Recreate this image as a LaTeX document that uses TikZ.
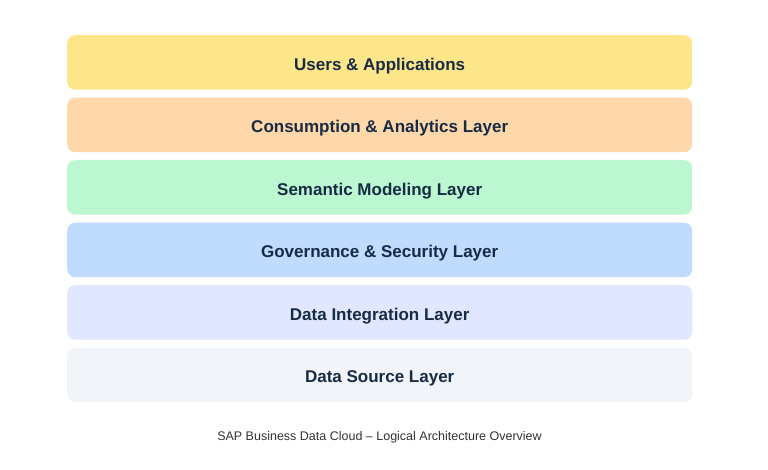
\documentclass[tikz,border=0pt]{standalone}
\usepackage{fontspec}
\setmainfont{Liberation Sans}
\definecolor{cA}{HTML}{FDE68A}
\definecolor{cB}{HTML}{FED7AA}
\definecolor{cC}{HTML}{BBF7D0}
\definecolor{cD}{HTML}{BFDBFE}
\definecolor{cE}{HTML}{E0E7FF}
\definecolor{cF}{HTML}{F1F5F9}
\definecolor{txt}{HTML}{172B45}
\definecolor{cap}{HTML}{333333}
\begin{document}
\begin{tikzpicture}[x=1pt,y=-1pt,
  layer/.style={rounded corners=8pt, minimum width=625pt, minimum height=54.5pt,
    inner sep=0pt, text height=16pt, text depth=0pt, text=txt,
    font=\fontsize{17}{20}\selectfont\bfseries, anchor=north west}]
\useasboundingbox[fill=white] (0,0) rectangle (768,470);
\node[layer, fill=cA] (l1) at (67,35) {Users \& Applications};
\node[layer, fill=cB] (l2) at (67,97.5) {Consumption \& Analytics Layer};
\node[layer, fill=cC] (l3) at (67,160) {Semantic Modeling Layer};
\node[layer, fill=cD] (l4) at (67,222.5) {Governance \& Security Layer};
\node[layer, fill=cE] (l5) at (67,285) {Data Integration Layer};
\node[layer, fill=cF] (l6) at (67,347.5) {Data Source Layer};
\node[text=cap, font=\fontsize{12.5}{15}\selectfont] (cap) at (379.5,437.5) {SAP Business Data Cloud – Logical Architecture Overview};
\end{tikzpicture}
\end{document}
